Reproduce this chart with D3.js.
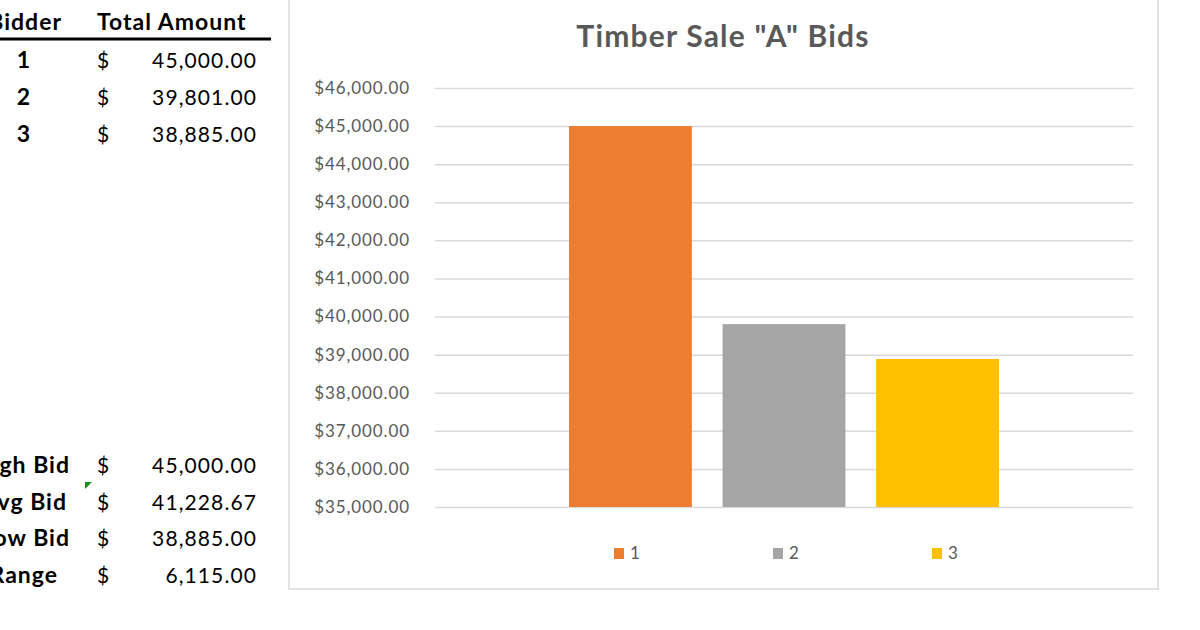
<!DOCTYPE html>
<html>
<head>
<meta charset="utf-8">
<script src="https://cdn.jsdelivr.net/npm/d3@7"></script>
<style>
  body { margin: 0; background: #fff; }
  svg { display: block; font-family: Lato, "Open Sans", sans-serif; }
</style>
</head>
<body>
<div id="chart"></div>
<script>
// bid data
var bidders = ["1", "2", "3"];
var amounts = [45000, 39801, 38885];
var summaryLabels = ["High Bid", "Avg Bid", "Low Bid", "Range"];
var summaryValues = [45000, 41228.67, 38885, 6115];
var yTicks = [35000, 36000, 37000, 38000, 39000, 40000, 41000, 42000, 43000, 44000, 45000, 46000];
var colors = ["#ED7D31", "#A5A5A5", "#FFC000"];

var W = 1200, H = 630;
var svg = d3.select("#chart").append("svg")
  .attr("width", W)
  .attr("height", H);

var money = d3.format(",.2f");

// helpers for the sheet cells
function boldCell(g, x, y, anchor, t) {
  return g.append("text")
    .attr("x", x).attr("y", y)
    .attr("text-anchor", anchor)
    .attr("font-weight", "bold")
    .attr("font-size", 23)
    .attr("letter-spacing", 1)
    .text(t);
}
function cell(g, x, y, anchor, t) {
  return g.append("text")
    .attr("x", x).attr("y", y)
    .attr("text-anchor", anchor)
    .attr("font-size", 21)
    .attr("letter-spacing", 1.1)
    .text(t);
}

// ---- spreadsheet table on the left ----
var sheet = svg.append("g");
boldCell(sheet, 62, 30, "end", "Bidder");
boldCell(sheet, 97, 30, "start", "Total Amount");
sheet.append("line")
  .attr("x1", 0).attr("x2", 271)
  .attr("y1", 39).attr("y2", 39)
  .attr("stroke", "#000")
  .attr("stroke-width", 3);

var rowY = d3.scalePoint().domain(bidders).range([68, 142]);
bidders.forEach(function(b, i) {
  boldCell(sheet, 24, rowY(b), "middle", b);
  cell(sheet, 97, rowY(b), "start", "$");
  cell(sheet, 257, rowY(b), "end", money(amounts[i]));
});

var sumY = d3.scalePoint().domain(summaryLabels).range([473, 583]);
var labelEnd = [70, 67, 70, 58];
summaryLabels.forEach(function(l, i) {
  boldCell(sheet, labelEnd[i], sumY(l), "end", l);
  cell(sheet, 97, sumY(l), "start", "$");
  cell(sheet, 257, sumY(l), "end", money(summaryValues[i]));
});
// little green error marker in the avg cell
sheet.append("path")
  .attr("d", "M85,482 L92,482 L85,489 Z")
  .attr("fill", "#1E8C1E");

// ---- chart box ----
svg.append("rect")
  .attr("x", 289).attr("y", -5)
  .attr("width", 869).attr("height", 594)
  .attr("fill", "#fff")
  .attr("stroke", "#E3E3E3")
  .attr("stroke-width", 2);

svg.append("text")
  .attr("x", 723).attr("y", 47)
  .attr("text-anchor", "middle")
  .attr("font-weight", "bold")
  .attr("font-size", 30)
  .attr("letter-spacing", 1.2)
  .attr("fill", "#595959")
  .text('Timber Sale "A" Bids');

var plotL = 435, plotR = 1133;
var y = d3.scaleLinear().domain([35000, 46000]).range([507, 88]);

var x0 = d3.scaleBand().domain(["bids"]).range([plotL, plotR]).paddingOuter(0.3116);
var x1 = d3.scaleBand().domain(bidders).range([0, x0.bandwidth()]).paddingInner(0.2);

// gridlines + labels through axis
var yAxis = d3.axisLeft(y)
  .tickValues(yTicks)
  .tickSize(-(plotR - plotL))
  .tickPadding(25)
  .tickFormat(function(d) { return "$" + money(d); });

var ag = svg.append("g")
  .attr("transform", "translate(" + plotL + ",0)")
  .call(yAxis);
ag.select(".domain").remove();
ag.selectAll(".tick line").attr("stroke", "#D9D9D9").attr("stroke-width", 1.5);
ag.selectAll(".tick text")
  .attr("fill", "#595959")
  .attr("font-size", 17)
  .attr("letter-spacing", 0.9)
  .attr("font-family", "Lato, sans-serif");

// bars
svg.append("g")
  .attr("transform", "translate(" + x0("bids") + ",0)")
  .selectAll("rect")
  .data(amounts)
  .enter().append("rect")
  .attr("x", function(d, i) { return x1(bidders[i]); })
  .attr("y", function(d) { return y(d); })
  .attr("width", x1.bandwidth())
  .attr("height", function(d) { return y(35000) - y(d); })
  .attr("fill", function(d, i) { return colors[i]; });

// legend
var lx = d3.scalePoint().domain(bidders).range([614, 932]);
var leg = svg.append("g").selectAll("g")
  .data(bidders)
  .enter().append("g")
  .attr("transform", function(d) { return "translate(" + lx(d) + ",548)"; });
leg.append("rect")
  .attr("width", 10).attr("height", 11)
  .attr("fill", function(d, i) { return colors[i]; });
leg.append("text")
  .attr("x", 16).attr("y", 11)
  .attr("font-size", 17)
  .attr("fill", "#595959")
  .text(function(d) { return d; });
</script>
</body>
</html>
